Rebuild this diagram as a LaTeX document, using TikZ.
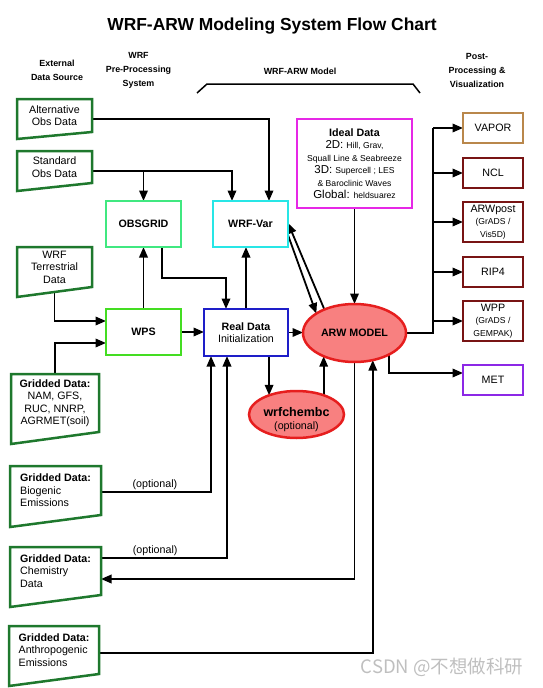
\documentclass[tikz,border=0pt]{standalone}
\usepackage{fontspec}
\setmainfont{Liberation Sans}
\newfontfamily\cjkfont{Noto Sans CJK SC}
\usetikzlibrary{arrows.meta,shapes.geometric}
\definecolor{cExt}{RGB}{30,120,45}
\definecolor{cObs}{RGB}{64,232,128}
\definecolor{cWps}{RGB}{68,221,34}
\definecolor{cVar}{RGB}{40,230,230}
\definecolor{cRd}{RGB}{30,30,200}
\definecolor{cArwFill}{RGB}{248,128,128}
\definecolor{cArw}{RGB}{230,30,30}
\definecolor{cIdeal}{RGB}{230,40,230}
\definecolor{cVapor}{RGB}{185,135,75}
\definecolor{cPost}{RGB}{120,20,20}
\definecolor{cMet}{RGB}{140,40,230}
\pgfdeclarelayer{bg}
\pgfdeclarelayer{mid}
\pgfsetlayers{bg,mid,main}
\newcommand\fsmain{\fontsize{10.7}{12.5}\selectfont}
\newcommand\fssmall{\fontsize{8.6}{12}\selectfont}
\newcommand\extshape[2]{\draw[extline] (#1.north west) -- (#1.north east) -- (#1.south east) -- ([yshift=-#2pt]#1.south west) -- cycle;}
\begin{document}
\begin{tikzpicture}[x=1pt,y=-1pt,
  every node/.style={inner sep=0pt, outer sep=0pt, align=center, font=\fsmain},
  box/.style={draw, line width=2.5pt, fill=white, minimum width=75pt, minimum height=46pt},
  postbox/.style={draw=cPost, line width=2.5pt, fill=white, minimum width=60pt, minimum height=30pt},
  ext/.style={align=left},
  extline/.style={draw=cExt, line width=2.5pt, fill=white, line join=miter},
  oval/.style={ellipse, draw=cArw, fill=cArwFill, line width=2.5pt},
  conn/.style={line width=1.8pt, -{Triangle[length=10.5pt,width=8.5pt]}},
  plain/.style={line width=1.8pt},
  hdr/.style={font=\bfseries\fontsize{8.9}{14}\selectfont}
]
\useasboundingbox (0,0) rectangle (543,688);

% Title and headers
\node[font=\bfseries\fontsize{17.4}{20}\selectfont] (title) at (272,26) {WRF-ARW Modeling System Flow Chart};
\node[hdr] (h1) at (57,70) {External\\Data Source};
\node[hdr] (h2) at (138.5,70) {WRF\\Pre-Processing\\System};
\node[hdr] (h3) at (300,71) {WRF-ARW Model};
\node[hdr] (h4) at (477,70) {Post-\\Processing \&\\Visualization};
\draw[line width=1.5pt] (197,93) -- (207,84) -- (413,84) -- (420,93);

% External data sources
\node[minimum width=75pt, minimum height=33pt] (alt) at (54.5,115.5) {Alternative\\Obs Data};
\node[minimum width=75pt, minimum height=32pt] (std) at (54.5,167) {Standard\\Obs Data};
\node[minimum width=75pt, minimum height=40pt] (terr) at (54.5,267) {WRF\\Terrestrial\\Data};
\node[minimum width=88pt, minimum height=58pt] (nam) at (55,403) {\textbf{Gridded Data:}\\NAM, GFS,\\RUC, NNRP,\\AGRMET(soil)};
\node[ext, minimum width=91pt, minimum height=49pt] (bio) at (55.5,490.5) {\textbf{Gridded Data:}\\Biogenic\\Emissions};
\node[ext, minimum width=91pt, minimum height=48pt] (chem) at (55.5,571) {\textbf{Gridded Data:}\\Chemistry\\Data};
\node[ext, minimum width=90pt, minimum height=48pt] (anth) at (54,650) {\textbf{Gridded Data:}\\Anthropogenic\\Emissions};
\begin{pgfonlayer}{mid}
\extshape{alt}{7}
\extshape{std}{8}
\extshape{terr}{10}
\extshape{nam}{12}
\extshape{bio}{12}
\extshape{chem}{12}
\extshape{anth}{12}
\end{pgfonlayer}

% Processing boxes
\node[box, draw=cObs] (obs) at (143.5,224) {\textbf{OBSGRID}};
\node[box, draw=cWps] (wps) at (143.5,332) {\textbf{WPS}};
\node[box, draw=cVar] (wv) at (250.5,224) {\textbf{WRF-Var}};
\node[box, draw=cRd, minimum width=84pt, minimum height=47pt] (rd) at (246,332.5) {\textbf{Real Data}\\Initialization};
\node[box, draw=cIdeal, minimum width=115pt, minimum height=89pt] (ideal) at (354.5,163.5)
  {\textbf{Ideal Data}\\{\fontsize{11.5}{12}\selectfont 2D:} {\fssmall Hill, Grav,}\\{\fssmall Squall Line \& Seabreeze}\\{\fontsize{11.5}{12}\selectfont 3D:} {\fssmall Supercell ; LES}\\{\fssmall \& Baroclinic Waves}\\{\fontsize{11.5}{12}\selectfont Global:} {\fssmall heldsuarez}};
\node[oval, minimum width=103pt, minimum height=58pt] (arw) at (354.5,333) {\textbf{ARW MODEL}};
\node[oval, minimum width=95pt, minimum height=47pt] (wc) at (296.5,414.5) {};
\node (wct) at ([yshift=-5pt]wc.center) {{\fontsize{12.5}{14}\selectfont\bfseries wrfchembc}\\(optional)};

% Post-processing
\node[postbox, draw=cVapor] (vapor) at (493,128) {VAPOR};
\node[postbox] (ncl) at (493,173) {NCL};
\node[postbox, minimum height=40pt] (arwpost) at (493,222) {ARWpost\\{\fssmall (GrADS /}\\{\fssmall Vis5D)}};
\node[postbox] (rip) at (493,272) {RIP4};
\node[postbox, minimum height=40pt] (wpp) at (493,321) {WPP\\{\fssmall (GrADS /}\\{\fssmall GEMPAK)}};
\node[postbox, draw=cMet] (met) at (493,380) {MET};

% Watermark
\node[font=\cjkfont\fontsize{18.5}{20}\selectfont, text=gray!50] (wm) at (442,667) {CSDN @不想做科研};

% Connectors
\begin{pgfonlayer}{bg}
\coordinate (altout) at ([yshift=-3.5pt]alt.east);
\coordinate (stdout) at ([yshift=-4pt]std.east);
\draw[conn] (altout) -| ([xshift=18.5pt]wv.north);
\draw[conn] (stdout) -| ([xshift=-18.5pt]wv.north);
\draw[conn] (stdout -| obs.north) -- (obs.north);
\draw[conn] (wps.north) -- (obs.south);
\draw[conn] ([xshift=18.5pt]obs.south) -- ++(0,31) -| ([xshift=-20pt]rd.north);
\draw[conn] (rd.north) -- (rd.north |- wv.south);
\draw[conn] ([yshift=-11pt]wv.east) -- (arw.153);
\draw[conn] (arw.142) -- ([yshift=1pt]wv.east);
\draw[conn] (ideal.south) -- (arw.north);
\draw[conn] (wps.east) -- (wps.east -| rd.west);
\draw[conn] (rd.east) -- (rd.east -| arw.west);
\draw[conn] (terr.south) |- ([yshift=11pt]wps.west);
\draw[conn] (nam.north) |- ([yshift=-11pt]wps.west);
\draw[conn] (rd.south -| wc.145) -- (wc.145);
\draw[conn] (arw.217.5 |- wc.35) -- (arw.217.5);
\draw[conn] ([yshift=-1.5pt]bio.east) -| node[pos=0.245, above=2pt] (opt1) {(optional)} ([xshift=-35pt]rd.south);
\draw[conn] ([yshift=13pt]chem.east) -| node[pos=0.215, above=2pt] (opt2) {(optional)} ([xshift=-19pt]rd.south);
\draw[conn] (arw.south) |- ([yshift=-8pt]chem.east);
\draw[conn] ([yshift=-3pt]anth.east) -| (arw.304);
\draw[plain] (arw.east) -- ++(27,0) coordinate (bus) -- (bus |- vapor.west);
\draw[conn] (bus |- vapor.west) -- (vapor.west);
\draw[conn] (bus |- ncl.west) -- (ncl.west);
\draw[conn] (bus |- arwpost.west) -- (arwpost.west);
\draw[conn] (bus |- rip.west) -- (rip.west);
\draw[conn] (bus |- wpp.west) -- (wpp.west);
\draw[conn] (arw.-32) |- ([yshift=7pt]met.west);
\end{pgfonlayer}
\end{tikzpicture}
\end{document}
